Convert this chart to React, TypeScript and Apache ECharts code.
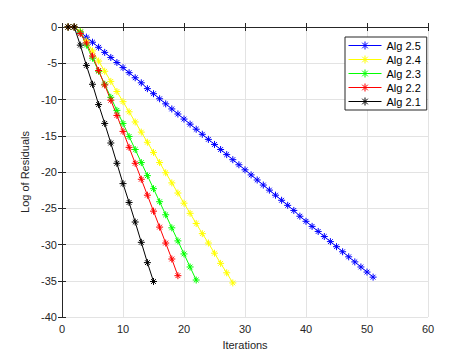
import React, { useEffect, useRef } from "react";
import * as echarts from "echarts";

// Iterations (x) and log residuals (y) for each algorithm
const alg21X = [1, 2, 3, 4, 5, 6, 7, 8, 9, 10, 11, 12, 13, 14, 15];
const alg21Y = [0, 0, -2.5, -5.3, -7.9, -10.7, -13.3, -16.0, -18.8, -21.6, -24.2, -26.9, -29.7, -32.5, -35.1];

const alg22X = [1, 2, 3, 4, 5, 6, 7, 8, 9, 10, 11, 12, 13, 14, 15, 16, 17, 18, 19];
const alg22Y = [0, 0, -0.9, -2.2, -4.0, -6.0, -8.0, -10.1, -12.2, -14.4, -16.6, -18.8, -21.0, -23.2, -25.4, -27.6, -29.8, -32.0, -34.3];

const alg23X = [1, 2, 3, 4, 5, 6, 7, 8, 9, 10, 11, 12, 13, 14, 15, 16, 17, 18, 19, 20, 21, 22];
const alg23Y = [0, 0, -0.7, -2.5, -4.3, -6.1, -7.9, -9.7, -11.5, -13.3, -15.1, -16.9, -18.7, -20.5, -22.3, -24.1, -25.9, -27.7, -29.5, -31.3, -33.1, -34.9];

const alg24X = [1, 2, 3, 4, 5, 6, 7, 8, 9, 10, 11, 12, 13, 14, 15, 16, 17, 18, 19, 20, 21, 22, 23, 24, 25, 26, 27, 28];
const alg24Y = [0, 0, -0.6, -1.9, -3.3, -4.7, -6.1, -7.5, -8.9, -10.3, -11.7, -13.1, -14.5, -15.9, -17.3, -18.7, -20.1, -21.5, -22.9, -24.3, -25.7, -27.1, -28.5, -29.8, -31.2, -32.6, -33.9, -35.3];

const alg25X = [1, 2, 3, 4, 5, 6, 7, 8, 9, 10, 11, 12, 13, 14, 15, 16, 17, 18, 19, 20, 21, 22, 23, 24, 25, 26, 27, 28, 29, 30, 31, 32, 33, 34, 35, 36, 37, 38, 39, 40, 41, 42, 43, 44, 45, 46, 47, 48, 49, 50, 51];
const alg25Y = [0, 0, -0.7, -1.4, -2.1, -2.8, -3.5, -4.2, -4.9, -5.6, -6.3, -7.0, -7.7, -8.5, -9.2, -9.9, -10.6, -11.3, -12.0, -12.7, -13.4, -14.1, -14.8, -15.5, -16.2, -16.9, -17.6, -18.3, -19.0, -19.7, -20.4, -21.1, -21.8, -22.5, -23.2, -23.9, -24.6, -25.3, -26.1, -26.8, -27.5, -28.2, -28.9, -29.6, -30.3, -31.0, -31.7, -32.4, -33.1, -33.8, -34.5];

const xTicks = [0, 10, 20, 30, 40, 50, 60];
const yTicks = [-40, -35, -30, -25, -20, -15, -10, -5, 0];

const FONT = 'Arial, "Liberation Sans", Helvetica, sans-serif';
const AXIS = "#262626";
const STAR = "path://M5,0L5,10M0,5L10,5M1.6,1.6L8.4,8.4M1.6,8.4L8.4,1.6";
const LEGEND_ICON = "path://M0,4L33,4M16.5,0L16.5,8M12.5,4L20.5,4M13.7,1.2L19.3,6.8M13.7,6.8L19.3,1.2";

function pairs(xs: number[], ys: number[]) {
  return xs.map((x, i) => [x, ys[i]]);
}

function series(name: string, color: string, xs: number[], ys: number[]) {
  return {
    name,
    type: "line",
    data: pairs(xs, ys),
    symbol: STAR,
    symbolSize: 7,
    showSymbol: true,
    lineStyle: { color, width: 1 },
    itemStyle: { color, borderColor: color, borderWidth: 1 },
    emphasis: { disabled: true },
  };
}

export default function App() {
  const ref = useRef<HTMLDivElement>(null);
  useEffect(() => {
    if (!ref.current) return;
    const chart = echarts.init(ref.current, undefined, { renderer: "svg" });
    const axisCommon = {
      type: "value",
      axisLine: { show: true, lineStyle: { color: AXIS, width: 1 } },
      axisTick: { show: true, inside: true, length: 4, lineStyle: { color: AXIS } },
    };
    const names = ["Alg 2.5", "Alg 2.4", "Alg 2.3", "Alg 2.2", "Alg 2.1"];
    chart.setOption({
      animation: false,
      backgroundColor: "#ffffff",
      textStyle: { fontFamily: FONT },
      grid: { left: 62, right: 46, top: 27, bottom: 38, containLabel: false },
      legend: {
        orient: "vertical",
        left: 345,
        top: 37,
        width: 78,
        padding: [3, 6, 3, 3],
        itemGap: 3,
        itemWidth: 33,
        itemHeight: 8,
        backgroundColor: "#ffffff",
        borderColor: AXIS,
        borderWidth: 1,
        borderRadius: 0,
        icon: LEGEND_ICON,
        itemStyle: { borderWidth: 1, borderColor: "inherit" },
        textStyle: { color: "#000000", fontSize: 11, fontFamily: FONT },
        data: names.map((n) => ({ name: n, icon: LEGEND_ICON })),
      },
      xAxis: [
        {
          ...axisCommon,
          position: "bottom",
          min: xTicks[0],
          max: xTicks[xTicks.length - 1],
          interval: 10,
          name: "Iterations",
          nameLocation: "middle",
          nameGap: 22,
          nameTextStyle: { color: AXIS, fontSize: 11, fontFamily: FONT },
          axisLabel: { color: AXIS, fontSize: 11, margin: 6, fontFamily: FONT },
          splitLine: { show: true, lineStyle: { color: "#e3e3e3", width: 1 } },
        },
        {
          ...axisCommon,
          position: "top",
          min: xTicks[0],
          max: xTicks[xTicks.length - 1],
          interval: 10,
          axisLabel: { show: false },
          splitLine: { show: false },
        },
      ],
      yAxis: [
        {
          ...axisCommon,
          position: "left",
          min: yTicks[0],
          max: yTicks[yTicks.length - 1],
          interval: 5,
          name: "Log of Residuals",
          nameLocation: "middle",
          nameGap: 27,
          nameTextStyle: { color: AXIS, fontSize: 11, fontFamily: FONT },
          axisLabel: { color: AXIS, fontSize: 11, margin: 5, fontFamily: FONT },
          splitLine: { show: true, lineStyle: { color: "#e3e3e3", width: 1 } },
        },
        {
          ...axisCommon,
          position: "right",
          min: yTicks[0],
          max: yTicks[yTicks.length - 1],
          interval: 5,
          axisLabel: { show: false },
          splitLine: { show: false },
        },
      ],
      series: [
        series("Alg 2.5", "#0000ff", alg25X, alg25Y),
        series("Alg 2.4", "#ffff00", alg24X, alg24Y),
        series("Alg 2.3", "#00ff00", alg23X, alg23Y),
        series("Alg 2.2", "#ff0000", alg22X, alg22Y),
        series("Alg 2.1", "#000000", alg21X, alg21Y),
      ],
    });
    return () => chart.dispose();
  }, []);
  return (
    <div
      ref={ref}
      style={{ position: "fixed", left: 0, top: 0, width: 474, height: 355, background: "#fff" }}
    />
  );
}
